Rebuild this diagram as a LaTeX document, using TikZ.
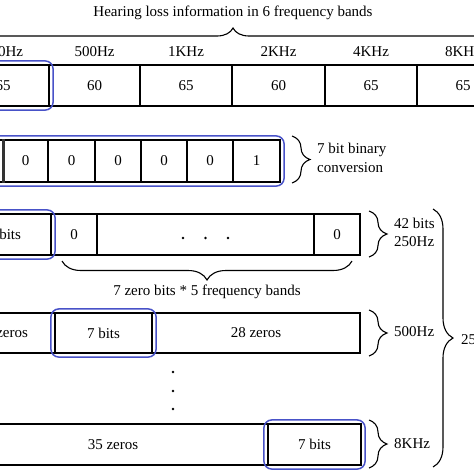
\documentclass[tikz,border=0pt]{standalone}
\usepackage{fontspec}
\setmainfont{Liberation Serif}
\usetikzlibrary{decorations.pathreplacing,fit}
\definecolor{boxblue}{RGB}{72,82,200}
\begin{document}
\begin{tikzpicture}[x=1pt,y=-1pt,
  every node/.style={font=\fontsize{15}{18}\selectfont},
  cell/.style={draw=black,line width=1.2pt,inner sep=0pt,minimum height=#1},
  cell/.default=41pt,
  bluebox/.style={draw=boxblue,line width=1.5pt,rounded corners=8pt,inner sep=3.5pt},
  bracket/.style={draw=black,line width=1.1pt,decorate,decoration={brace,amplitude=#1}},
  lbl/.style={inner sep=0pt},
  dotmark/.style={fill=black,draw=none}]
\useasboundingbox (0,0) rectangle (474,474);
\clip (0,0) rectangle (474,474);

% title and top brace
\node[lbl] (title) at (233,13) {Hearing loss information in 6 frequency bands};
\coordinate (tbL) at (-43,44);
\coordinate (tbR) at (509,44);
\draw[bracket=16pt] (tbL) -- (tbR);

% frequency labels
\node[lbl] (f1) at (3,52) {250Hz};
\node[lbl] (f2) at (94.5,52) {500Hz};
\node[lbl] (f3) at (186,52) {1KHz};
\node[lbl] (f4) at (278.5,52) {2KHz};
\node[lbl] (f5) at (371,52) {4KHz};
\node[lbl] (f6) at (463,52) {8KHz};

% row 1
\node[cell, minimum width=92pt] (a1) at (3,85.5) {65};
\node[cell, minimum width=91pt] (a2) at (94.5,85.5) {60};
\node[cell, minimum width=92pt] (a3) at (186,85.5) {65};
\node[cell, minimum width=93pt] (a4) at (278.5,85.5) {60};
\node[cell, minimum width=92pt] (a5) at (371,85.5) {65};
\node[cell, minimum width=92pt] (a6) at (463,85.5) {65};
\node[bluebox, fit=(a1)] (ba) {};

% row 2
\node[cell=42pt, minimum width=46pt] (b1) at (-20,161) {1};
\node[cell=42pt, minimum width=45pt] (b2) at (25.5,161) {0};
\node[cell=42pt, minimum width=47pt] (b3) at (71.5,161) {0};
\node[cell=42pt, minimum width=46pt] (b4) at (118,161) {0};
\node[cell=42pt, minimum width=46pt] (b5) at (164,161) {0};
\node[cell=42pt, minimum width=46pt] (b6) at (210,161) {0};
\node[cell=42pt, minimum width=47pt] (b7) at (256.5,161) {1};
\draw[line width=2.4pt,black!80] (b1.north east) -- (b1.south east);
\node[bluebox, fit=(b1)(b7)] (bb) {};
\coordinate (brT) at (292,136);
\coordinate (brB) at (292,183);
\draw[bracket=18pt] (brT) -- (brB);
\node[lbl,anchor=west] (conv1) at (317,150) {7 bit binary};
\node[lbl,anchor=west] (conv2) at (317,168) {conversion};

% row 3
\node[cell, minimum width=93pt] (c1) at (4.5,234.5) {7 bits};
\node[cell, minimum width=46pt] (c2) at (74,234.5) {0};
\node[cell, minimum width=217pt] (c3) at (205.5,234.5) {};
\node[cell, minimum width=46pt] (c4) at (337,234.5) {0};
\fill[dotmark] (183,238) circle (1.4pt) (205.5,238) circle (1.4pt) (228,238) circle (1.4pt);
\node[bluebox, fit=(c1)] (bc) {};
\coordinate (c3r) at (369,211);
\coordinate (c3rb) at (369,257);
\draw[bracket=18pt] (c3r) -- (c3rb);
\node[lbl,anchor=west] (bits42) at (394,223) {42 bits};
\node[lbl,anchor=west] (hz250) at (394,242) {250Hz};
\coordinate (ubR) at (352,261);
\coordinate (ubL) at (62,261);
\draw[bracket=19pt] (ubR) -- (ubL);
\node[lbl] (zerobits) at (207,292) {7 zero bits * 5 frequency bands};

% row 4
\node[cell=40pt, minimum width=97pt] (d1) at (6.5,333) {7 zeros};
\node[cell=40pt, minimum width=97pt] (d2) at (103.5,333) {7 bits};
\node[cell=40pt, minimum width=208pt] (d3) at (256,333) {28 zeros};
\node[bluebox, fit=(d2)] (bd) {};
\coordinate (d4t) at (369,310);
\coordinate (d4b) at (369,356);
\draw[bracket=18pt] (d4t) -- (d4b);
\node[lbl,anchor=west] (hz500) at (394,332) {500Hz};

% vertical dots
\fill[dotmark] (173,372) circle (1.4pt) (173,391) circle (1.4pt) (173,409) circle (1.4pt);

% row 5
\node[cell, minimum width=310pt] (e1) at (113,444.5) {35 zeros};
\node[cell, minimum width=93pt] (e2) at (314.5,444.5) {7 bits};
\node[bluebox, fit=(e2)] (be) {};
\coordinate (e5t) at (369,420);
\coordinate (e5b) at (369,468);
\draw[bracket=18pt] (e5t) -- (e5b);
\node[lbl,anchor=west] (khz8) at (394,444) {8KHz};

% big brace
\coordinate (bgT) at (433,209);
\coordinate (bgB) at (433,467);
\draw[bracket=20pt] (bgT) -- (bgB);
\node[lbl,anchor=west] (total) at (461,339) {252 bits};
\end{tikzpicture}
\end{document}
